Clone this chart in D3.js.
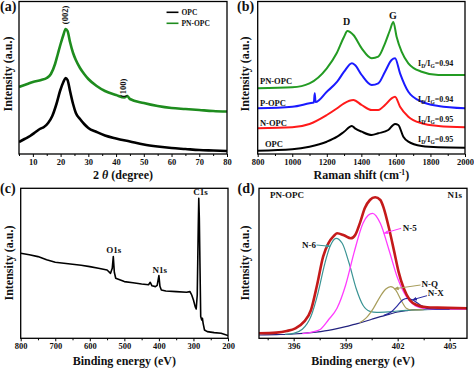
<!DOCTYPE html>
<html><head><meta charset="utf-8">
<script src="https://cdn.jsdelivr.net/npm/d3@7"></script>
<style>
html,body{margin:0;padding:0;background:#fff;}
svg{display:block;}
text{font-family:"Liberation Serif","Times New Roman",serif;font-weight:bold;}
</style></head><body>
<svg id="c" width="474" height="369"></svg>
<script>
// ---------- Panel (a) XRD ----------
const xrdTicks = [10,20,30,40,50,60,70,80];
const xrdMinor = [5,15,25,35,45,55,65,75];
const xrdOPC = [[5,12],[7,15],[9,18],[11,22],[12.5,25],[14,27],[15.5,31],[17,38],[18.5,50],[19.8,63],[21,72],[21.8,76],[22.5,74],[23.4,63],[24.5,50],[25.5,41],[27,35],[28.5,30],[30,26],[33,22],[36,18.5],[40,15.5],[45,12.5],[50,9.5],[55,7.5],[60,6],[65,5],[70,4],[75,3.5],[80,3]];
const xrdPNOPC = [[5,67],[8,70],[10,72],[13,74],[15,76],[16.5,80],[18,90],[19,100],[20,110],[21,119],[21.8,125],[22.5,123],[23.4,112],[24.5,101],[25.5,94],[27,86],[28.5,80],[30,75],[33,68],[36,63],[40,59],[43,56.5],[44,58],[45,55],[50,51],[55,48],[60,46],[65,45],[70,44],[75,43],[80,42.5]];

// ---------- Panel (b) Raman ----------
const ramanTicks = [800,1000,1200,1400,1600,1800,2000];
const ramanMinor = [900,1100,1300,1500,1700,1900];
const ramanOPC = [[800,3.3],[1000,4.7],[1100,7.3],[1200,12.3],[1260,17.3],[1300,22.3],[1345,28],[1363,25.7],[1402,22.3],[1460,19],[1498,20.7],[1556,24],[1595,30],[1614,29],[1643,17.3],[1672,12.3],[1749,8],[1846,6.7],[2000,6.3]];
const ramanNOPC = [[800,25.7],[1000,26.7],[1100,30],[1200,39],[1260,45.7],[1300,50.7],[1354,54],[1402,49],[1460,44],[1498,44],[1537,49],[1575,55.7],[1595,57.3],[1624,47.3],[1672,37.3],[1749,30.7],[1846,28],[2000,26.7]];
const ramanPOPC = [[800,45.7],[1000,47.3],[1100,50.7],[1125,51.5],[1130,60.7],[1135,52],[1200,62.3],[1260,72.3],[1300,82.3],[1345,90.7],[1363,89],[1402,79],[1460,69],[1498,70.7],[1537,82.3],[1575,94],[1595,95.7],[1624,80.7],[1672,62.3],[1749,52.3],[1846,48],[2000,45.7]];
const ramanPNOPC = [[800,65.7],[1000,66.7],[1100,70.7],[1200,85.7],[1257,100.7],[1300,117.3],[1319,123],[1354,119],[1402,105.7],[1460,95.7],[1498,97.3],[1537,110.7],[1566,124],[1585,132],[1604,117.3],[1633,102.3],[1672,90.7],[1749,82.3],[1846,79],[2000,79]];
const ramanRatios = ["0.94","0.94","0.95","0.95"];

// ---------- Panel (c) XPS survey ----------
const surveyTicks = [800,700,600,500,400,300,200];
const surveyMinor = [750,650,550,450,350,250];
const survey = [[800,85],[775,83.5],[750,81.7],[725,78.5],[700,76],[675,75],[650,74],[625,73],[600,71.7],[575,70],[550,68.3],[540,65],[535,70],[532,81.7],[529,66],[525,60],[500,56.7],[475,55.5],[450,54.3],[430,53.5],[425,56],[420,52.5],[410,51.7],[405,53],[400,62.7],[397,52],[393,48.3],[380,47.3],[350,46.7],[320,46],[310,46.7],[305,43.3],[300,38.3],[295,31.7],[292,29.3],[289,43.3],[286,113],[284.6,140],[283,120],[281,70],[279,21.7],[276,18.3],[274,20],[272,15],[268,8.3],[260,6.7],[240,5.7],[220,5],[200,2.7]];

// ---------- Panel (d) N1s ----------
const n1sTicks = [396,399,402,405];
const n1sMinor = [394.5,397.5,400.5,403.5];
const n1sBackground = [[394,3.3],[395,3.7],[396,4.3],[397,5.7],[398,8],[398.5,9.7],[399,11.7],[399.5,14],[400,16.3],[400.5,19],[401,21.7],[401.5,24],[402,26.3],[402.5,27.7],[403,28.7],[404,29],[406,29.3]];
const n1sEnvelope = [[394,5],[395,5.7],[395.6,7.3],[396.1,10],[396.6,16.7],[397,28.3],[397.35,53.3],[397.7,81.7],[398,95],[398.3,102],[398.5,105],[398.9,103],[399.3,100],[399.55,103.3],[399.85,116.7],[400.1,130],[400.4,138.3],[400.7,141],[401,138.3],[401.2,130],[401.5,110],[401.8,86.7],[402.05,66.7],[402.35,50],[402.7,38.3],[403.1,33.3],[403.7,31],[404.3,30.7],[406,30]];
const n1sN6 = [[395.5,4],[396,5],[396.5,9],[397,22],[397.4,45],[397.8,75],[398.1,92],[398.45,100],[398.8,95],[399.2,75],[399.6,50],[400,33],[400.4,27],[400.8,26],[401.5,26.5],[402.5,28],[404,29],[406,29.3]];
const n1sN5 = [[396.5,4.7],[397,6],[397.5,8.5],[398,18.3],[398.5,30],[399,53.3],[399.5,86.7],[400,115],[400.3,123],[400.55,125],[401,115],[401.5,88.3],[402,60],[402.5,41.7],[403,32.7],[403.5,30],[404,29.3],[406,29.3]];
const n1sNQ = [[399.8,15.5],[400.2,20.7],[400.6,30],[401,42],[401.3,49],[401.6,51.7],[401.9,48],[402.2,38],[402.5,30],[402.8,28.3],[403.5,28.7]];
const n1sNX = [[401.2,23],[401.6,26],[402,33],[402.3,38.5],[402.55,40],[402.9,38],[403.3,33.3],[403.7,30],[404.2,29.2],[405,29.2]];

const svg = d3.select('#c');
const defs = svg.append('defs');
function marker(id, color){
  defs.append('marker').attr('id',id).attr('viewBox','0 0 10 10')
    .attr('refX',9).attr('refY',5).attr('markerWidth',5).attr('markerHeight',5)
    .attr('orient','auto').append('path').attr('d','M0,1L10,5L0,9z').attr('fill',color);
}

function panel(o){
  const x = d3.scaleLinear().domain(o.xd).range([o.x0,o.x1]);
  const y = d3.scaleLinear().domain(o.yd).range([o.y1,o.y0]);
  const g = svg.append('g');
  const clipId = 'clip'+o.name;
  defs.append('clipPath').attr('id',clipId).append('rect')
    .attr('x',o.x0).attr('y',o.y0).attr('width',o.x1-o.x0).attr('height',o.y1-o.y0);
  const plot = g.append('g').attr('clip-path',`url(#${clipId})`);
  const ax = g.append('g').attr('transform',`translate(0,${o.y1})`)
    .call(d3.axisBottom(x).tickValues(o.ticks).tickSize(3).tickPadding(2).tickFormat(d3.format('d')));
  ax.select('.domain').remove();
  ax.selectAll('line').attr('stroke','#000').attr('stroke-width',1);
  ax.selectAll('text').attr('font-size',8.5).attr('font-family','"Liberation Serif",serif').attr('font-weight','bold').attr('fill','#111');
  const mx = g.append('g').attr('transform',`translate(0,${o.y1})`)
    .call(d3.axisBottom(x).tickValues(o.minor).tickSize(2).tickFormat(''));
  mx.select('.domain').remove();
  mx.selectAll('line').attr('stroke','#000').attr('stroke-width',1);
  g.append('rect').attr('x',o.x0).attr('y',o.y0).attr('width',o.x1-o.x0).attr('height',o.y1-o.y0)
    .attr('fill','none').attr('stroke','#000').attr('stroke-width',1.3);
  g.append('text').attr('x',(o.x0+o.x1)/2 + (o.tdx||0)).attr('y',o.ty).attr('text-anchor','middle')
    .attr('font-size',12).attr('fill','#111').call(o.title);
  g.append('text').attr('transform',`translate(${o.yx},${o.yy}) rotate(-90)`).attr('text-anchor','middle')
    .attr('dy','0.35em').attr('font-size',12).attr('fill','#111').text('Intensity (a.u.)');
  svg.append('text').attr('x',o.lx).attr('y',o.ly).attr('font-size',14).attr('fill','#111').text(o.label);
  return {x,y,g,plot};
}
function draw(p, data, color, w, curve){
  p.plot.append('path').datum(data).attr('fill','none').attr('stroke',color).attr('stroke-width',w)
    .attr('stroke-linejoin','round')
    .attr('d', d3.line().x(d=>p.x(d[0])).y(d=>p.y(d[1])).curve(curve||d3.curveMonotoneX));
}
function label(p, v, i, txt, size, anchor){
  return p.g.append('text').attr('x',p.x(v)).attr('y',p.y(i)).attr('font-size',size)
    .attr('text-anchor',anchor||'start').attr('fill','#111').text(txt);
}

// ---- (a)
const pa = panel({name:'a', xd:[5,80], yd:[0,152.5], x0:19, x1:227, y0:1.5, y1:154,
  ticks:xrdTicks, minor:xrdMinor, ty:179, yx:7.5, yy:74, lx:0, ly:10.5, label:'(a)',
  title: t=>{ t.append('tspan').text('2 '); t.append('tspan').attr('font-style','italic').text('θ'); t.append('tspan').text('  (degree)'); }});
draw(pa, xrdOPC, '#000', 2.6);
draw(pa, xrdPNOPC, '#1e8c1e', 2.6);
[[21.77,139,'(002)'],[42.5,66,'(100)']].forEach(d=>{
  pa.g.append('text').attr('transform',`translate(${pa.x(d[0])},${pa.y(d[1])}) rotate(-90)`)
    .attr('text-anchor','middle').attr('dy','0.35em').attr('font-size',8.5).attr('fill','#111').text(d[2]);
});
[['OPC','#000',141.7],['PN-OPC','#1e8c1e',130.7]].forEach(d=>{
  pa.g.append('line').attr('x1',pa.x(58.2)).attr('x2',pa.x(62.5)).attr('y1',pa.y(d[2])).attr('y2',pa.y(d[2]))
    .attr('stroke',d[1]).attr('stroke-width',1.6);
  pa.g.append('text').attr('x',pa.x(63.6)).attr('y',pa.y(d[2])).attr('dy','0.35em').attr('font-size',7.5)
    .attr('fill','#111').text(d[0]);
});

// ---- (b)
const pb = panel({name:'b', xd:[800,2000], yd:[0,152.5], x0:257.7, x1:465, y0:1.5, y1:154,
  ticks:ramanTicks, minor:ramanMinor, ty:179, yx:244.5, yy:74, lx:237, ly:10.5, label:'(b)',
  title: t=>{ t.append('tspan').text('Raman shift (cm'); t.append('tspan').attr('dy',-4.5).attr('font-size',7.5).text('-1'); t.append('tspan').attr('dy',4.5).text(')'); }});
draw(pb, ramanOPC, '#000', 2);
draw(pb, ramanNOPC, '#ff1a1a', 2);
draw(pb, ramanPOPC, '#1a1aff', 2);
draw(pb, ramanPNOPC, '#239b23', 2);
label(pb, 813, 70, 'PN-OPC', 8.5);
label(pb, 813, 48.3, 'P-OPC', 8.5);
label(pb, 813, 28.3, 'N-OPC', 8.5);
label(pb, 842, 7, 'OPC', 8.5);
label(pb, 1315, 129, 'D', 10, 'middle');
label(pb, 1583, 135.5, 'G', 10, 'middle');
[87.7, 52, 32, 12].forEach((iv, k)=>{
  const t = pb.g.append('text').attr('x',pb.x(1728)).attr('y',pb.y(iv)).attr('font-size',8).attr('fill','#111');
  t.append('tspan').text('I');
  t.append('tspan').attr('dy',2).attr('font-size',5.5).text('D');
  t.append('tspan').attr('dy',-2).text('/I');
  t.append('tspan').attr('dy',2).attr('font-size',5.5).text('G');
  t.append('tspan').attr('dy',-2).text('=' + ramanRatios[k]);
});

// ---- (c)
const pc = panel({name:'c', xd:[800,200], yd:[0,150], x0:20.7, x1:228, y0:188.3, y1:338.3,
  ticks:surveyTicks, minor:surveyMinor, ty:365, yx:8.3, yy:263, lx:0, ly:193, label:'(c)',
  title: t=>t.text('Binding energy (eV)')});
draw(pc, survey, '#000', 1.6, d3.curveLinear);
label(pc, 279.6, 143.6, 'C1s', 9, 'middle');
label(pc, 530.5, 85.3, 'O1s', 9, 'middle');
label(pc, 397.7, 65.3, 'N1s', 9, 'middle');

// ---- (d)
const pd = panel({name:'d', xd:[394,406], yd:[0,150], x0:259, x1:467, y0:188.3, y1:338.3,
  ticks:n1sTicks, minor:n1sMinor, ty:365, yx:245, yy:263, lx:237.5, ly:192.5, label:'(d)',
  title: t=>t.text('Binding energy (eV)')});
draw(pd, n1sBackground, '#23237f', 1.2);
draw(pd, n1sN6, '#3a9494', 1.2);
draw(pd, n1sN5, '#ff3cff', 1.3);
draw(pd, n1sNQ, '#a89e5c', 1.2);
draw(pd, n1sNX, '#2a2aa0', 1.2);
draw(pd, n1sEnvelope, '#c41a1a', 2.6);
label(pd, 394.63, 140.3, 'PN-OPC', 9);
label(pd, 405.71, 140.8, 'N1s', 9, 'end');
label(pd, 402.29, 107.3, 'N-5', 9);
label(pd, 396.48, 90.3, 'N-6', 9);
label(pd, 403.37, 51.3, 'N-Q', 9);
label(pd, 403.73, 42.8, 'N-X', 9);
const arrows = [
  ['m5','#ff3cff',402.2,110,401.2,105],
  ['m6','#3a9494',397.32,93.3,398.1,92],
  ['mq','#a89e5c',403.32,53.3,401.8,49.5],
  ['mx','#2a2aa0',403.69,42.6,402.85,38.5]
];
arrows.forEach(a=>{
  marker(a[0], a[1]);
  pd.g.append('line').attr('x1',pd.x(a[2])).attr('y1',pd.y(a[3])).attr('x2',pd.x(a[4])).attr('y2',pd.y(a[5]))
    .attr('stroke',a[1]).attr('stroke-width',1).attr('marker-end',`url(#${a[0]})`);
});
</script></body></html>
